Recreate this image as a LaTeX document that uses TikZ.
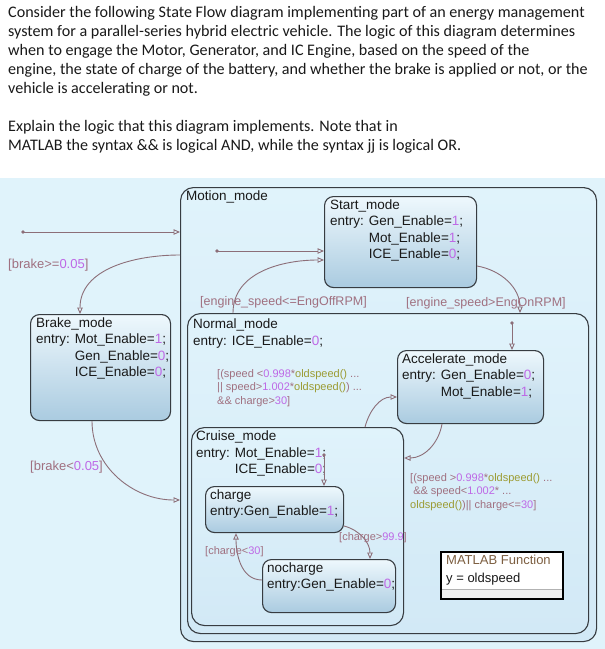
\documentclass[tikz,border=0pt]{standalone}
\usepackage{fontspec}
\setmainfont{Carlito}
\newfontfamily\sflow{Liberation Sans}
\usetikzlibrary{arrows.meta}
\definecolor{bgblue}{RGB}{224,243,251}
\definecolor{bgdeep}{RGB}{210,233,246}
\definecolor{stline}{RGB}{55,60,65}
\definecolor{stop}{RGB}{238,248,253}
\definecolor{sbot}{RGB}{170,203,224}
\definecolor{trcol}{RGB}{140,110,120}
\definecolor{grdcol}{RGB}{160,112,128}
\definecolor{numcol}{RGB}{190,105,230}
\definecolor{fcol}{RGB}{155,155,50}
\definecolor{mfcol}{RGB}{125,95,65}
\definecolor{qcol}{RGB}{25,25,25}
\def\nv#1{\textcolor{numcol}{#1}}
\def\fv#1{\textcolor{fcol}{#1}}
\def\entind{\phantom{entry: }}

\begin{document}
\begin{tikzpicture}[x=1pt,y=-1pt,
  statebox/.style={draw=stline,line width=1.1pt,rounded corners=9pt,anchor=north west,inner sep=0pt,top color=stop,bottom color=sbot},
  superbox/.style={draw=stline,line width=1.1pt,rounded corners=13pt,anchor=north west,inner sep=0pt,top color=bgblue,bottom color=bgdeep},
  stxt/.style={anchor=north west,inner sep=0pt,align=left,text=qcol,font=\sflow\fontsize{13.5}{16.5}\selectfont},
  grd/.style={anchor=west,inner sep=0pt,text=grdcol,font=\sflow\fontsize{12.5}{15}\selectfont},
  sgrd/.style={anchor=north west,inner sep=0pt,align=left,text=grdcol,font=\sflow\fontsize{11}{13.5}\selectfont},
  trans/.style={draw=trcol,line width=0.9pt,-{Triangle[open,length=6.5pt,width=5.5pt]}},
  ]
 \useasboundingbox (0,0) rectangle (605,649);
 \fill[bgblue] (0,178) rectangle (605,649);

 \node[anchor=north west,inner sep=0pt,align=left,text=qcol,font=\fontsize{16.1}{19}\selectfont] (question) at (8,6)
  {Consider the following State Flow diagram implementing part of an energy management\\
   system for a parallel-series hybrid electric vehicle. The logic of this diagram determines\\
   when to engage the Motor, Generator, and IC Engine, based on the speed of the\\
   engine, the state of charge of the battery, and whether the brake is applied or not, or the\\
   vehicle is accelerating or not.\\[19pt]
   Explain the logic that this diagram implements. Note that in\\
   MATLAB the syntax \&\& is logical AND, while the syntax jj is logical OR.};

 % states
 \node[superbox,minimum width=416,minimum height=454] (motion) at (180,187) {};
 \node[stxt] (motiontxt) at ([xshift=6pt,yshift=-4pt]motion.north west) {Motion\_mode};
 \node[statebox,minimum width=140,minimum height=106] (brake) at (30,314) {};
 \node[stxt] (braketxt) at ([xshift=6pt,yshift=-3.5pt]brake.north west)
  {Brake\_mode\\entry: Mot\_Enable=\nv{1};\\\entind Gen\_Enable=\nv{0};\\\entind ICE\_Enable=\nv{0};};
 \node[statebox,minimum width=152,minimum height=91] (start) at (324,196) {};
 \node[stxt] (starttxt) at ([xshift=6pt,yshift=-3.5pt]start.north west)
  {Start\_mode\\entry: Gen\_Enable=\nv{1};\\\entind Mot\_Enable=\nv{1};\\\entind ICE\_Enable=\nv{0};};
 \node[superbox,minimum width=401,minimum height=320] (normal) at (187,313) {};
 \node[stxt] (normaltxt) at ([xshift=6pt,yshift=-6pt]normal.north west) {Normal\_mode\\entry: ICE\_Enable=\nv{0};};
 \node[statebox,minimum width=146,minimum height=73] (accel) at (397,350) {};
 \node[stxt] (acceltxt) at ([xshift=5pt,yshift=-3.5pt]accel.north west)
  {Accelerate\_mode\\entry: Gen\_Enable=\nv{0};\\\entind Mot\_Enable=\nv{1};};
 \node[superbox,minimum width=212,minimum height=198] (cruise) at (191,427) {};
 \node[stxt] (cruisetxt) at ([xshift=5pt,yshift=-4pt]cruise.north west)
  {Cruise\_mode\\entry: Mot\_Enable=\nv{1};\\\entind ICE\_Enable=\nv{0};};
 \node[statebox,minimum width=138,minimum height=46] (charge) at (205,486) {};
 \node[stxt] (chargetxt) at ([xshift=5pt,yshift=-3.5pt]charge.north west) {charge\\entry:Gen\_Enable=\nv{1};};
 \node[statebox,minimum width=133,minimum height=53] (nocharge) at (262,559) {};
 \node[stxt] (nochargetxt) at ([xshift=5pt,yshift=-3.5pt]nocharge.north west) {nocharge\\entry:Gen\_Enable=\nv{0};};

 \node[draw=black,line width=2pt,fill=white,anchor=north west,inner sep=0pt,minimum width=122,minimum height=47,
  path picture={\fill[gray!12] ([yshift=10pt]path picture bounding box.south west) rectangle (path picture bounding box.south east);
   \draw[gray!60,line width=0.6pt] ([yshift=10pt]path picture bounding box.south west) -- ([yshift=10pt]path picture bounding box.south east);}]
  (mfun) at (440,551) {};
 \node[anchor=north west,inner sep=0pt,align=left,text=qcol,font=\sflow\fontsize{13}{18}\selectfont] (mfuntxt)
  at ([xshift=6pt,yshift=-4pt]mfun.north west) {\textcolor{mfcol}{MATLAB Function}\\y = oldspeed};

 % default transitions
 \coordinate (d0) at (23,232);
 \coordinate (d1) at (217,251);
 \coordinate (d2) at (512,323);
 \coordinate (d3) at (324,455);
 \foreach \d in {d0,d1,d2,d3} \fill[trcol] (\d) circle (1.9pt);
 \draw[trans] (d0) -- (d0 -| motion.west);
 \draw[trans] (d1) -- (d1 -| start.west);
 \draw[trans] (d2) -- (d2 |- accel.north);
 \draw[trans] (d3) -- (d3 |- charge.north);

 % transitions
 \draw[trans] (motion.west |- 0,255) to[out=180,in=90] (80,0 |- brake.north);
 \draw[trans] (92,0 |- brake.south) to[out=-90,in=180] (motion.west |- 0,500);
 \draw[trans] (233,0 |- normal.north) to[out=90,in=180] (start.west |- 0,260);
 \draw[trans] (start.east |- 0,266) to[out=-10,in=90] (520,0 |- normal.north);
 \draw[trans] (365,0 |- cruise.north) to[out=75,in=180] (accel.west |- 0,397);
 \draw[trans] (442,0 |- accel.south) to[out=-100,in=0] (cruise.east |- 0,458);
 \draw[trans] (charge.east |- 0,526) to[out=-15,in=90] (370,0 |- nocharge.north);
 \draw[trans] (nocharge.west |- 0,580) to[out=180,in=-90] (236,0 |- charge.south);

 % guards
 \node[grd,font=\sflow\fontsize{13}{15}\selectfont] (gbrakeon) at (8,265) {[brake>=\nv{0.05}]};
 \node[grd,font=\sflow\fontsize{13}{15}\selectfont] (gbrakeoff) at (30,467) {[brake<\nv{0.05}]};
 \node[grd] (goff) at (200,302) {[engine\_speed<=EngOffRPM]};
 \node[grd] (gon) at (406,303) {[engine\_speed>EngOnRPM]};
 \node[sgrd] (gaccel) at (217,369)
  {[(speed <\nv{0.998}*\fv{oldspeed()} ...\\|| speed>\nv{1.002}*\fv{oldspeed()}) ...\\\&\& charge>\nv{30}]};
 \node[sgrd] (gcruise) at (410,473)
  {[(speed >\nv{0.998}*\fv{oldspeed()} ...\\\ \&\& speed<\nv{1.002}* ...\\\fv{oldspeed()})|| charge<=\nv{30}]};
 \node[grd,font=\sflow\fontsize{11}{13}\selectfont] (gfull) at (339,538) {[charge>\nv{99.9}]};
 \node[grd,font=\sflow\fontsize{11}{13}\selectfont] (glow) at (205,552) {[charge<\nv{30}]};
\end{tikzpicture}
\end{document}
